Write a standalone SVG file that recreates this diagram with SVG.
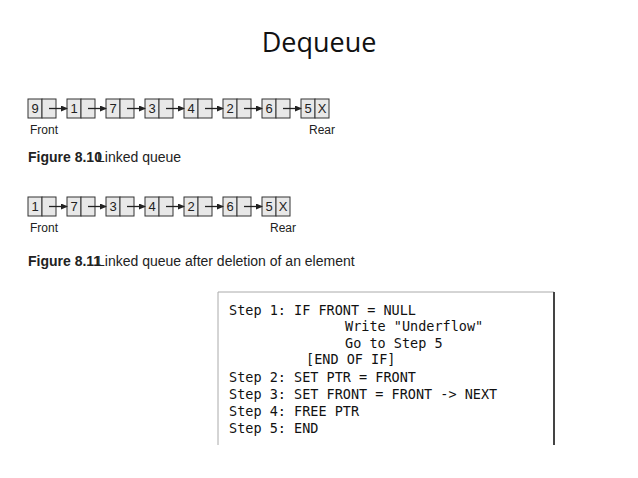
<svg xmlns="http://www.w3.org/2000/svg" width="638" height="478" viewBox="0 0 638 478">
<style>
.c{fill:#e8e8e8;stroke:#333;stroke-width:1}
.n{font-family:"Liberation Sans Narrow","Liberation Sans",sans-serif;font-size:13px;fill:#222;text-anchor:middle}
.l{font-family:"Liberation Sans Narrow","Liberation Sans",sans-serif;font-size:12px;fill:#222}
.cap{font-family:"Liberation Sans Narrow","Liberation Sans",sans-serif;font-size:14px;fill:#222}
.a{stroke:#222;stroke-width:1.3;fill:none;marker-end:url(#ah)}
.m{font-family:"DejaVu Sans Mono",monospace;font-size:13.5px;fill:#111;white-space:pre}
</style>
<defs><marker id="ah" markerWidth="7" markerHeight="6" refX="6" refY="3" orient="auto" markerUnits="userSpaceOnUse"><path d="M0,0 L7,3 L0,6 z" fill="#222"/></marker></defs>
<rect width="638" height="478" fill="#fff"/>
<text x="319" y="52" text-anchor="middle" font-family="Open Sans, sans-serif" font-size="27" fill="#111">Dequeue</text>
<g id="row1">
<g id="n1a"><rect class="c" x="28" y="99" width="14" height="19"/><rect class="c" x="42" y="99" width="14" height="19"/><text class="n" x="35" y="113">9</text></g>
<g id="n1b"><rect class="c" x="67" y="99" width="14" height="19"/><rect class="c" x="81" y="99" width="14" height="19"/><text class="n" x="74" y="113">1</text></g>
<g id="n1c"><rect class="c" x="106" y="99" width="14" height="19"/><rect class="c" x="120" y="99" width="14" height="19"/><text class="n" x="113" y="113">7</text></g>
<g id="n1d"><rect class="c" x="145" y="99" width="14" height="19"/><rect class="c" x="159" y="99" width="14" height="19"/><text class="n" x="152" y="113">3</text></g>
<g id="n1e"><rect class="c" x="184" y="99" width="14" height="19"/><rect class="c" x="198" y="99" width="14" height="19"/><text class="n" x="191" y="113">4</text></g>
<g id="n1f"><rect class="c" x="223" y="99" width="14" height="19"/><rect class="c" x="237" y="99" width="14" height="19"/><text class="n" x="230" y="113">2</text></g>
<g id="n1g"><rect class="c" x="262" y="99" width="14" height="19"/><rect class="c" x="276" y="99" width="14" height="19"/><text class="n" x="269" y="113">6</text></g>
<g id="n1h"><rect class="c" x="301" y="99" width="14" height="19"/><rect class="c" x="315" y="99" width="14" height="19"/><text class="n" x="308" y="113">5</text><text class="n" x="322" y="113">X</text></g>
<text class="l" x="30" y="134">Front</text><text class="l" x="309" y="134">Rear</text>
<text class="cap" x="28" y="162"><tspan font-weight="bold">Figure 8.10</tspan><tspan x="97">Linked queue</tspan></text>
</g>
<g id="row2">
<g id="n2a"><rect class="c" x="28" y="197" width="14" height="19"/><rect class="c" x="42" y="197" width="14" height="19"/><text class="n" x="35" y="211">1</text></g>
<g id="n2b"><rect class="c" x="67" y="197" width="14" height="19"/><rect class="c" x="81" y="197" width="14" height="19"/><text class="n" x="74" y="211">7</text></g>
<g id="n2c"><rect class="c" x="106" y="197" width="14" height="19"/><rect class="c" x="120" y="197" width="14" height="19"/><text class="n" x="113" y="211">3</text></g>
<g id="n2d"><rect class="c" x="145" y="197" width="14" height="19"/><rect class="c" x="159" y="197" width="14" height="19"/><text class="n" x="152" y="211">4</text></g>
<g id="n2e"><rect class="c" x="184" y="197" width="14" height="19"/><rect class="c" x="198" y="197" width="14" height="19"/><text class="n" x="191" y="211">2</text></g>
<g id="n2f"><rect class="c" x="223" y="197" width="14" height="19"/><rect class="c" x="237" y="197" width="14" height="19"/><text class="n" x="230" y="211">6</text></g>
<g id="n2g"><rect class="c" x="262" y="197" width="14" height="19"/><rect class="c" x="276" y="197" width="14" height="19"/><text class="n" x="269" y="211">5</text><text class="n" x="283" y="211">X</text></g>
<text class="l" x="30" y="232">Front</text><text class="l" x="270" y="232">Rear</text>
<text class="cap" x="28" y="266"><tspan font-weight="bold">Figure 8.11</tspan><tspan x="97">Linked queue after deletion of an element</tspan></text>
</g>
<g id="connectors">
<path class="a" d="M49,108.5H67"/><path class="a" d="M88,108.5H106"/><path class="a" d="M127,108.5H145"/><path class="a" d="M166,108.5H184"/><path class="a" d="M205,108.5H223"/><path class="a" d="M244,108.5H262"/><path class="a" d="M283,108.5H301"/>
<path class="a" d="M49,206.5H67"/><path class="a" d="M88,206.5H106"/><path class="a" d="M127,206.5H145"/><path class="a" d="M166,206.5H184"/><path class="a" d="M205,206.5H223"/><path class="a" d="M244,206.5H262"/>
</g>
<g id="code">
<path d="M218,445V292H554V445" fill="none" stroke="#aaa" stroke-width="1"/>
<path d="M554,292V445" stroke="#444" stroke-width="2"/>
<text class="m" x="229" y="315">Step 1: IF FRONT = NULL</text>
<text class="m" x="345" y="331">Write "Underflow"</text>
<text class="m" x="345" y="348">Go to Step 5</text>
<text class="m" x="306" y="364">[END OF IF]</text>
<text class="m" x="229" y="382">Step 2: SET PTR = FRONT</text>
<text class="m" x="229" y="399">Step 3: SET FRONT = FRONT -&gt; NEXT</text>
<text class="m" x="229" y="416">Step 4: FREE PTR</text>
<text class="m" x="229" y="433">Step 5: END</text>
</g>
</svg>
